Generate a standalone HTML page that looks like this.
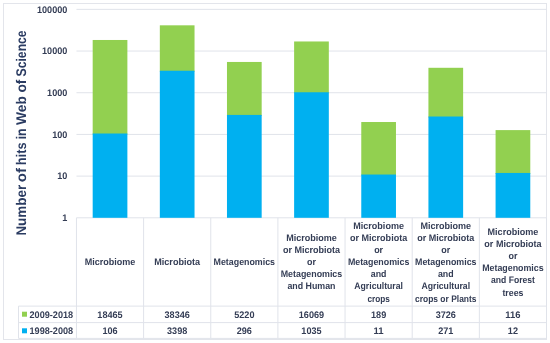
<!DOCTYPE html>
<html><head><meta charset="utf-8"><style>
html,body{margin:0;padding:0;background:#fff;width:550px;height:343px;overflow:hidden}
svg{display:block;text-rendering:geometricPrecision;filter:blur(0.3px)}
.t{font-family:"Liberation Sans",sans-serif;font-weight:bold;font-size:9.5px;fill:#343D55}
.h{letter-spacing:-0.12px}
.ti{font-family:"Liberation Sans",sans-serif;font-weight:bold;font-size:14px;fill:#2B3C62}
</style></head><body>
<svg width="550" height="343" viewBox="0 0 550 343">
<rect x="0" y="0" width="550" height="343" fill="#fff"/>
<rect x="3.5" y="3.5" width="543" height="336" fill="none" stroke="#E3E5EB" stroke-width="1"/>
<line x1="76.45" x2="546.5000000000001" y1="217.80" y2="217.80" stroke="#E0E3EA" stroke-width="1"/>
<line x1="76.45" x2="546.5000000000001" y1="176.11" y2="176.11" stroke="#E0E3EA" stroke-width="1"/>
<line x1="76.45" x2="546.5000000000001" y1="134.42" y2="134.42" stroke="#E0E3EA" stroke-width="1"/>
<line x1="76.45" x2="546.5000000000001" y1="92.73" y2="92.73" stroke="#E0E3EA" stroke-width="1"/>
<line x1="76.45" x2="546.5000000000001" y1="51.04" y2="51.04" stroke="#E0E3EA" stroke-width="1"/>
<line x1="76.45" x2="546.5000000000001" y1="9.35" y2="9.35" stroke="#E0E3EA" stroke-width="1"/>
<text x="67.4" y="221.10" text-anchor="end" textLength="5.07" lengthAdjust="spacingAndGlyphs" class="t">1</text>
<text x="67.4" y="179.41" text-anchor="end" textLength="10.14" lengthAdjust="spacingAndGlyphs" class="t">10</text>
<text x="67.4" y="137.72" text-anchor="end" textLength="15.21" lengthAdjust="spacingAndGlyphs" class="t">100</text>
<text x="67.4" y="96.03" text-anchor="end" textLength="20.28" lengthAdjust="spacingAndGlyphs" class="t">1000</text>
<text x="67.4" y="54.34" text-anchor="end" textLength="25.35" lengthAdjust="spacingAndGlyphs" class="t">10000</text>
<text x="67.4" y="12.65" text-anchor="end" textLength="30.42" lengthAdjust="spacingAndGlyphs" class="t">100000</text>
<rect x="92.68" y="39.98" width="34.7" height="94.53" fill="#92D050"/>
<rect x="92.68" y="133.51" width="34.7" height="84.29" fill="#00B0F0"/>
<rect x="159.83" y="25.32" width="34.7" height="46.42" fill="#92D050"/>
<rect x="159.83" y="70.73" width="34.7" height="147.07" fill="#00B0F0"/>
<rect x="226.97" y="61.96" width="34.7" height="53.96" fill="#92D050"/>
<rect x="226.97" y="114.92" width="34.7" height="102.88" fill="#00B0F0"/>
<rect x="294.12" y="41.47" width="34.7" height="51.78" fill="#92D050"/>
<rect x="294.12" y="92.26" width="34.7" height="125.54" fill="#00B0F0"/>
<rect x="361.27" y="122.02" width="34.7" height="53.51" fill="#92D050"/>
<rect x="361.27" y="174.53" width="34.7" height="43.27" fill="#00B0F0"/>
<rect x="428.43" y="67.79" width="34.7" height="49.73" fill="#92D050"/>
<rect x="428.43" y="116.52" width="34.7" height="101.28" fill="#00B0F0"/>
<rect x="495.58" y="130.10" width="34.7" height="43.86" fill="#92D050"/>
<rect x="495.58" y="172.96" width="34.7" height="44.84" fill="#00B0F0"/>
<line x1="76.45" x2="76.45" y1="217.8" y2="338.4" stroke="#E0E3EA" stroke-width="1"/>
<line x1="143.60" x2="143.60" y1="217.8" y2="338.4" stroke="#E0E3EA" stroke-width="1"/>
<line x1="210.75" x2="210.75" y1="217.8" y2="338.4" stroke="#E0E3EA" stroke-width="1"/>
<line x1="277.90" x2="277.90" y1="217.8" y2="338.4" stroke="#E0E3EA" stroke-width="1"/>
<line x1="345.05" x2="345.05" y1="217.8" y2="338.4" stroke="#E0E3EA" stroke-width="1"/>
<line x1="412.20" x2="412.20" y1="217.8" y2="338.4" stroke="#E0E3EA" stroke-width="1"/>
<line x1="479.35" x2="479.35" y1="217.8" y2="338.4" stroke="#E0E3EA" stroke-width="1"/>
<line x1="546.50" x2="546.50" y1="217.8" y2="338.4" stroke="#E0E3EA" stroke-width="1"/>
<line x1="18.5" x2="18.5" y1="306.1" y2="338.4" stroke="#E0E3EA" stroke-width="1"/>
<line x1="18.5" x2="546.5000000000001" y1="306.1" y2="306.1" stroke="#E0E3EA" stroke-width="1"/>
<line x1="18.5" x2="546.5000000000001" y1="322.6" y2="322.6" stroke="#E0E3EA" stroke-width="1"/>
<line x1="18.5" x2="546.5000000000001" y1="338.4" y2="338.4" stroke="#E0E3EA" stroke-width="1"/>
<text x="110.03" y="265.30" text-anchor="middle" textLength="50.68" lengthAdjust="spacingAndGlyphs" class="t">Microbiome</text>
<text x="110.03" y="317.80" text-anchor="middle" textLength="25.35" lengthAdjust="spacingAndGlyphs" class="t">18465</text>
<text x="110.03" y="334.00" text-anchor="middle" textLength="15.21" lengthAdjust="spacingAndGlyphs" class="t">106</text>
<text x="177.18" y="265.30" text-anchor="middle" textLength="45.93" lengthAdjust="spacingAndGlyphs" class="t">Microbiota</text>
<text x="177.18" y="317.80" text-anchor="middle" textLength="25.35" lengthAdjust="spacingAndGlyphs" class="t">38346</text>
<text x="177.18" y="334.00" text-anchor="middle" textLength="20.28" lengthAdjust="spacingAndGlyphs" class="t">3398</text>
<text x="244.32" y="265.30" text-anchor="middle" textLength="61.46" lengthAdjust="spacingAndGlyphs" class="t">Metagenomics</text>
<text x="244.32" y="317.80" text-anchor="middle" textLength="20.28" lengthAdjust="spacingAndGlyphs" class="t">5220</text>
<text x="244.32" y="334.00" text-anchor="middle" textLength="15.21" lengthAdjust="spacingAndGlyphs" class="t">296</text>
<text x="311.48" y="241.14" text-anchor="middle" textLength="50.68" lengthAdjust="spacingAndGlyphs" class="t">Microbiome</text>
<text x="311.48" y="253.22" text-anchor="middle" textLength="57.12" lengthAdjust="spacingAndGlyphs" class="t">or Microbiota</text>
<text x="311.48" y="265.30" text-anchor="middle" textLength="8.93" lengthAdjust="spacingAndGlyphs" class="t">or</text>
<text x="311.48" y="277.38" text-anchor="middle" textLength="61.46" lengthAdjust="spacingAndGlyphs" class="t">Metagenomics</text>
<text x="311.48" y="289.46" text-anchor="middle" textLength="48.06" lengthAdjust="spacingAndGlyphs" class="t">and Human</text>
<text x="311.48" y="317.80" text-anchor="middle" textLength="25.35" lengthAdjust="spacingAndGlyphs" class="t">16069</text>
<text x="311.48" y="334.00" text-anchor="middle" textLength="20.28" lengthAdjust="spacingAndGlyphs" class="t">1035</text>
<text x="378.62" y="229.06" text-anchor="middle" textLength="50.68" lengthAdjust="spacingAndGlyphs" class="t">Microbiome</text>
<text x="378.62" y="241.14" text-anchor="middle" textLength="57.12" lengthAdjust="spacingAndGlyphs" class="t">or Microbiota</text>
<text x="378.62" y="253.22" text-anchor="middle" textLength="8.93" lengthAdjust="spacingAndGlyphs" class="t">or</text>
<text x="378.62" y="265.30" text-anchor="middle" textLength="61.46" lengthAdjust="spacingAndGlyphs" class="t">Metagenomics</text>
<text x="378.62" y="277.38" text-anchor="middle" textLength="15.68" lengthAdjust="spacingAndGlyphs" class="t">and</text>
<text x="378.62" y="289.46" text-anchor="middle" textLength="48.61" lengthAdjust="spacingAndGlyphs" class="t">Agricultural</text>
<text x="378.62" y="301.54" text-anchor="middle" textLength="22.47" lengthAdjust="spacingAndGlyphs" class="t">crops</text>
<text x="378.62" y="317.80" text-anchor="middle" textLength="15.21" lengthAdjust="spacingAndGlyphs" class="t">189</text>
<text x="378.62" y="334.00" text-anchor="middle" textLength="10.14" lengthAdjust="spacingAndGlyphs" class="t">11</text>
<text x="445.78" y="229.06" text-anchor="middle" textLength="50.68" lengthAdjust="spacingAndGlyphs" class="t">Microbiome</text>
<text x="445.78" y="241.14" text-anchor="middle" textLength="57.12" lengthAdjust="spacingAndGlyphs" class="t">or Microbiota</text>
<text x="445.78" y="253.22" text-anchor="middle" textLength="8.93" lengthAdjust="spacingAndGlyphs" class="t">or</text>
<text x="445.78" y="265.30" text-anchor="middle" textLength="61.46" lengthAdjust="spacingAndGlyphs" class="t">Metagenomics</text>
<text x="445.78" y="277.38" text-anchor="middle" textLength="15.68" lengthAdjust="spacingAndGlyphs" class="t">and</text>
<text x="445.78" y="289.46" text-anchor="middle" textLength="48.61" lengthAdjust="spacingAndGlyphs" class="t">Agricultural</text>
<text x="445.78" y="301.54" text-anchor="middle" textLength="61.47" lengthAdjust="spacingAndGlyphs" class="t">crops or Plants</text>
<text x="445.78" y="317.80" text-anchor="middle" textLength="20.28" lengthAdjust="spacingAndGlyphs" class="t">3726</text>
<text x="445.78" y="334.00" text-anchor="middle" textLength="15.21" lengthAdjust="spacingAndGlyphs" class="t">271</text>
<text x="512.93" y="235.10" text-anchor="middle" textLength="50.68" lengthAdjust="spacingAndGlyphs" class="t">Microbiome</text>
<text x="512.93" y="247.18" text-anchor="middle" textLength="57.12" lengthAdjust="spacingAndGlyphs" class="t">or Microbiota</text>
<text x="512.93" y="259.26" text-anchor="middle" textLength="8.93" lengthAdjust="spacingAndGlyphs" class="t">or</text>
<text x="512.93" y="271.34" text-anchor="middle" textLength="61.46" lengthAdjust="spacingAndGlyphs" class="t">Metagenomics</text>
<text x="512.93" y="283.42" text-anchor="middle" textLength="43.95" lengthAdjust="spacingAndGlyphs" class="t">and Forest</text>
<text x="512.93" y="295.50" text-anchor="middle" textLength="21.07" lengthAdjust="spacingAndGlyphs" class="t">trees</text>
<text x="512.93" y="317.80" text-anchor="middle" textLength="15.21" lengthAdjust="spacingAndGlyphs" class="t">116</text>
<text x="512.93" y="334.00" text-anchor="middle" textLength="10.14" lengthAdjust="spacingAndGlyphs" class="t">12</text>
<rect x="22" y="311.7" width="5" height="5" fill="#92D050"/>
<text x="29.5" y="317.8" textLength="43.62" lengthAdjust="spacingAndGlyphs" class="t">2009-2018</text>
<rect x="22" y="328.3" width="5" height="5" fill="#00B0F0"/>
<text x="29.5" y="334.0" textLength="43.62" lengthAdjust="spacingAndGlyphs" class="t">1998-2008</text>
<text transform="translate(26.0,0) rotate(-90)" x="-235.60" y="0" textLength="50.70" lengthAdjust="spacingAndGlyphs" class="ti">Number</text>
<text transform="translate(26.0,0) rotate(-90)" x="-182.30" y="0" textLength="14.20" lengthAdjust="spacingAndGlyphs" class="ti">of</text>
<text transform="translate(26.0,0) rotate(-90)" x="-165.20" y="0" textLength="22.70" lengthAdjust="spacingAndGlyphs" class="ti">hits</text>
<text transform="translate(26.0,0) rotate(-90)" x="-139.30" y="0" textLength="10.90" lengthAdjust="spacingAndGlyphs" class="ti">in</text>
<text transform="translate(26.0,0) rotate(-90)" x="-124.90" y="0" textLength="28.80" lengthAdjust="spacingAndGlyphs" class="ti">Web</text>
<text transform="translate(26.0,0) rotate(-90)" x="-92.60" y="0" textLength="13.00" lengthAdjust="spacingAndGlyphs" class="ti">of</text>
<text transform="translate(26.0,0) rotate(-90)" x="-76.40" y="0" textLength="46.00" lengthAdjust="spacingAndGlyphs" class="ti">Science</text>
</svg>
</body></html>
